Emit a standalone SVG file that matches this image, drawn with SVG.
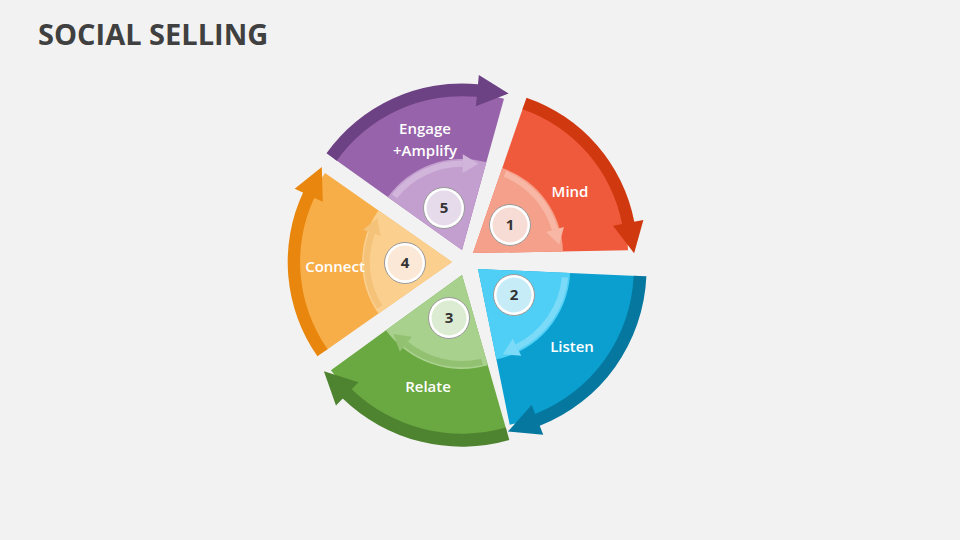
<svg xmlns="http://www.w3.org/2000/svg" xmlns:xlink="http://www.w3.org/1999/xlink" width="960" height="540" viewBox="0 0 960 540">
<style>
.lbl{font-family:"Open Sans","Liberation Sans",sans-serif;font-size:15px;font-weight:600;fill:#fff;text-anchor:middle}
.num{font-family:"Open Sans","Liberation Sans",sans-serif;font-size:15px;font-weight:bold;fill:#333;text-anchor:middle}
.nc{stroke:#fff;stroke-width:3}
.nr{fill:none;stroke:#999;stroke-width:1}
</style>
<defs>
<path id="w35" d="M0,0 L81.92,-57.36 A100,100 0 0 1 81.92,57.36 Z"/>
<path id="b35" d="M86.83,-60.80 A106,106 0 0 1 96.07,44.80 L88.82,41.42 A98,98 0 0 0 80.28,-56.21 Z M83.38,38.88 L101.5,47.33 L83.99,61.24 Z"/>
<path id="i35" d="M0,0 L47.51,-33.27 A58,58 0 0 1 47.51,33.27 Z"/>
<path id="a35" d="M46.64,-29.15 A55,55 0 0 1 51.68,18.81" fill="none" stroke-width="4"/>
<path id="h35" d="M46.05,16.76 L57.32,20.86 L48.26,28.21 Z"/>
<path id="w38" d="M0,0 L78.80,-61.57 A100,100 0 0 1 78.80,61.57 Z"/>
<path id="b38" d="M83.53,-65.26 A106,106 0 0 1 93.59,49.77 L86.52,46.01 A98,98 0 0 0 77.22,-60.34 Z M81.23,43.19 L98.88,52.58 L80.67,65.55 Z"/>
<path id="i38" d="M0,0 L45.70,-35.71 A58,58 0 0 1 45.70,35.71 Z"/>
<path id="a38" d="M45.06,-31.55 A55,55 0 0 1 50.63,21.49" fill="none" stroke-width="4"/>
<path id="h38" d="M45.10,19.14 L56.15,23.83 L46.72,30.70 Z"/>
</defs>
<rect width="960" height="540" fill="#f2f2f2"/>
<text x="38" y="45" font-family="'Open Sans','Liberation Sans',sans-serif" font-size="29" font-weight="bold" fill="#404040">SOCIAL SELLING</text>
<g id="connectors"></g>
<g id="mind">
<g transform="translate(473,253) rotate(-36) scale(1.55)">
<use xlink:href="#w35" fill="#f05a3c"/><use xlink:href="#b35" fill="#d0380f"/>
<use xlink:href="#i35" fill="#f5a08a"/><use xlink:href="#a35" stroke="#f8b7a5"/><use xlink:href="#h35" fill="#f8b7a5"/>
</g>
<circle cx="510" cy="225" r="19" fill="#f6dcd4" class="nc"/><circle cx="510" cy="225" r="20.5" class="nr"/>
<text x="510" y="230" class="num">1</text>
<text x="570" y="197" class="lbl">Mind</text>
</g>
<g id="listen">
<g transform="translate(478,269) rotate(40.5) scale(1.59)">
<use xlink:href="#w38" fill="#0a9fcf"/><use xlink:href="#b38" fill="#06779e"/>
<use xlink:href="#i38" fill="#4fcff5"/><use xlink:href="#a38" stroke="#7adaf7"/><use xlink:href="#h38" fill="#7adaf7"/>
</g>
<circle cx="514" cy="295" r="19" fill="#c6ecf8" class="nc"/><circle cx="514" cy="295" r="20.5" class="nr"/>
<text x="514" y="300" class="num">2</text>
<text x="572" y="352" class="lbl">Listen</text>
</g>
<g id="relate">
<g transform="translate(462,275) rotate(109) scale(1.62)">
<use xlink:href="#w35" fill="#6aa842"/><use xlink:href="#b35" fill="#4e8330"/>
<use xlink:href="#i35" fill="#a9d18e"/><use xlink:href="#a35" stroke="#92c271"/><use xlink:href="#h35" fill="#92c271"/>
</g>
<circle cx="449" cy="318" r="19" fill="#dcecd2" class="nc"/><circle cx="449" cy="318" r="20.5" class="nr"/>
<text x="449" y="323" class="num">3</text>
<text x="428" y="392" class="lbl">Relate</text>
</g>
<g id="connect">
<g transform="translate(452,262) rotate(180) scale(1.55)">
<use xlink:href="#w35" fill="#f8ae48"/><use xlink:href="#b35" fill="#e8860d"/>
<use xlink:href="#i35" fill="#fbd08f"/><use xlink:href="#a35" stroke="#f5c27a"/><use xlink:href="#h35" fill="#f5c27a"/>
</g>
<circle cx="405" cy="263" r="19" fill="#fbe8d6" class="nc"/><circle cx="405" cy="263" r="20.5" class="nr"/>
<text x="405" y="268" class="num">4</text>
<text x="335" y="272" class="lbl">Connect</text>
</g>
<g id="engage">
<g transform="translate(462,250) rotate(250.5) scale(1.57)">
<use xlink:href="#w35" fill="#9763aa"/><use xlink:href="#b35" fill="#6d4284"/>
<use xlink:href="#i35" fill="#c39fcf"/><use xlink:href="#a35" stroke="#d2b5db"/><use xlink:href="#h35" fill="#d2b5db"/>
</g>
<circle cx="444" cy="208" r="19" fill="#e6dbea" class="nc"/><circle cx="444" cy="208" r="20.5" class="nr"/>
<text x="444" y="213" class="num">5</text>
<text x="425" y="134" class="lbl">Engage</text>
<text x="425" y="156" class="lbl">+Amplify</text>
</g>
</svg>
